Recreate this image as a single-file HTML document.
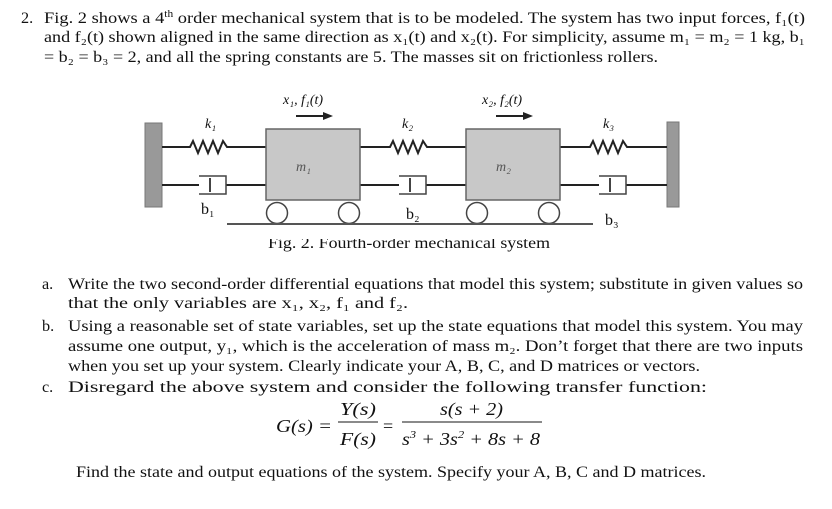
<!DOCTYPE html>
<html><head><meta charset="utf-8"><style>
html,body{margin:0;padding:0;background:#fff;}
svg{display:block;}
text{font-family:"Liberation Serif",serif;font-size:16.2px;fill:#111;}
.i{font-style:italic;}
</style></head><body>
<svg width="832" height="509" viewBox="0 0 832 509" xmlns="http://www.w3.org/2000/svg">
<text x="21" y="23">2.</text>
<text x="44" y="23" textLength="761" lengthAdjust="spacingAndGlyphs">Fig. 2 shows a 4<tspan font-size="10" dy="-6">th</tspan><tspan dy="6"> order mechanical system that is to be modeled.  The system has two input forces, f₁(t)</tspan></text>
<text x="44" y="42" textLength="761" lengthAdjust="spacingAndGlyphs">and f₂(t) shown aligned in the same direction as x₁(t) and x₂(t).  For simplicity, assume m₁ = m₂ = 1 kg, b₁</text>
<text x="44" y="62" textLength="614" lengthAdjust="spacingAndGlyphs">= b₂ = b₃ = 2, and all the spring constants are 5.  The masses sit on frictionless rollers.</text>

<g stroke="#222" stroke-width="2" fill="none">
<rect x="145" y="123" width="17" height="84" fill="#999" stroke="#777" stroke-width="1"/>
<rect x="667" y="122" width="12" height="85" fill="#999" stroke="#777" stroke-width="1"/>
<path d="M162 147 H190 l3 -6 l5 12 l5 -12 l5 12 l5 -12 l5 12 l5 -12 l4 6 H266"/>
<path d="M360 147 H390 l3 -6 l5 12 l5 -12 l5 12 l5 -12 l5 12 l5 -12 l4 6 H466"/>
<path d="M560 147 H590 l3 -6 l5 12 l5 -12 l5 12 l5 -12 l5 12 l5 -12 l4 6 H667"/>
<path d="M162 185 H210 M226 185 H266"/>
<path d="M360 185 H410 M426 185 H466"/>
<path d="M560 185 H610 M626 185 H667"/>
</g>
<g stroke="#444" stroke-width="1.5" fill="#fff">
<path d="M199 176 H226 V194 H199"/><line x1="210" y1="178" x2="210" y2="192" stroke-width="2"/>
<path d="M399 176 H426 V194 H399"/><line x1="410" y1="178" x2="410" y2="192" stroke-width="2"/>
<path d="M599 176 H626 V194 H599"/><line x1="610" y1="178" x2="610" y2="192" stroke-width="2"/>
</g>
<rect x="266" y="129" width="94" height="71" fill="#c8c8c8" stroke="#666" stroke-width="1.5"/>
<rect x="466" y="129" width="94" height="71" fill="#c8c8c8" stroke="#666" stroke-width="1.5"/>
<g fill="#fff" stroke="#444" stroke-width="1.5">
<circle cx="277" cy="213" r="10.5"/><circle cx="349" cy="213" r="10.5"/>
<circle cx="477" cy="213" r="10.5"/><circle cx="549" cy="213" r="10.5"/>
</g>
<line x1="227" y1="224" x2="593" y2="224" stroke="#555" stroke-width="2"/>
<g stroke="#222" stroke-width="2"><line x1="296" y1="116" x2="326" y2="116"/><line x1="496" y1="116" x2="526" y2="116"/></g>
<polygon points="333,116 323,112 323,120" fill="#222"/><polygon points="533,116 523,112 523,120" fill="#222"/>
<text x="283" y="104" class="i" style="font-size:14px">x₁, f₁(t)</text>
<text x="482" y="104" class="i" style="font-size:14px">x₂, f₂(t)</text>
<text x="205" y="128" class="i" style="font-size:14px">k₁</text>
<text x="402" y="128" class="i" style="font-size:14px">k₂</text>
<text x="603" y="128" class="i" style="font-size:14px">k₃</text>
<text x="296" y="171" class="i" style="font-size:14px;fill:#555">m₁</text>
<text x="496" y="171" class="i" style="font-size:14px;fill:#555">m₂</text>
<text x="201" y="214" style="font-size:16px">b₁</text>
<text x="406" y="219" style="font-size:16px">b₂</text>
<text x="605" y="225" style="font-size:16px">b₃</text>
<text x="268" y="248" textLength="282" lengthAdjust="spacingAndGlyphs">Fig. 2. Fourth-order mechanical system</text>
<rect x="260" y="234" width="300" height="5" fill="#fff"/>

<text x="42" y="289">a.</text>
<text x="68" y="289" textLength="735" lengthAdjust="spacingAndGlyphs">Write the two second-order differential equations that model this system; substitute in given values so</text>
<text x="68" y="308" textLength="340" lengthAdjust="spacingAndGlyphs">that the only variables are x₁, x₂, f₁ and f₂.</text>
<text x="42" y="331">b.</text>
<text x="68" y="331" textLength="735" lengthAdjust="spacingAndGlyphs">Using a reasonable set of state variables, set up the state equations that model this system.  You may</text>
<text x="68" y="351" textLength="735" lengthAdjust="spacingAndGlyphs">assume one output, y₁, which is the acceleration of mass m₂.  Don’t forget that there are two inputs</text>
<text x="68" y="371" textLength="632" lengthAdjust="spacingAndGlyphs">when you set up your system.  Clearly indicate your A, B, C, and D matrices or vectors.</text>
<text x="42" y="392">c.</text>
<text x="68" y="392" textLength="639" lengthAdjust="spacingAndGlyphs">Disregard the above system and consider the following transfer function:</text>

<text x="276" y="432" class="i" style="font-size:18px" textLength="56" lengthAdjust="spacingAndGlyphs">G(s) =</text>
<text x="340" y="415" class="i" style="font-size:18px" textLength="36" lengthAdjust="spacingAndGlyphs">Y(s)</text>
<line x1="338" y1="422" x2="378" y2="422" stroke="#444" stroke-width="1.3"/>
<text x="340" y="445" class="i" style="font-size:18px" textLength="36" lengthAdjust="spacingAndGlyphs">F(s)</text>
<text x="383" y="432" style="font-size:18px">=</text>
<text x="440" y="415" class="i" style="font-size:18px" textLength="63" lengthAdjust="spacingAndGlyphs">s(s + 2)</text>
<line x1="402" y1="422" x2="542" y2="422" stroke="#444" stroke-width="1.3"/>
<text x="402" y="445" class="i" style="font-size:18px" textLength="138" lengthAdjust="spacingAndGlyphs">s<tspan font-size="11" dy="-7">3</tspan><tspan dy="7"> + 3s</tspan><tspan font-size="11" dy="-7">2</tspan><tspan dy="7"> + 8s + 8</tspan></text>

<text x="76" y="477" textLength="630" lengthAdjust="spacingAndGlyphs">Find the state and output equations of the system. Specify your A, B, C and D matrices.</text>
</svg>
</body></html>
